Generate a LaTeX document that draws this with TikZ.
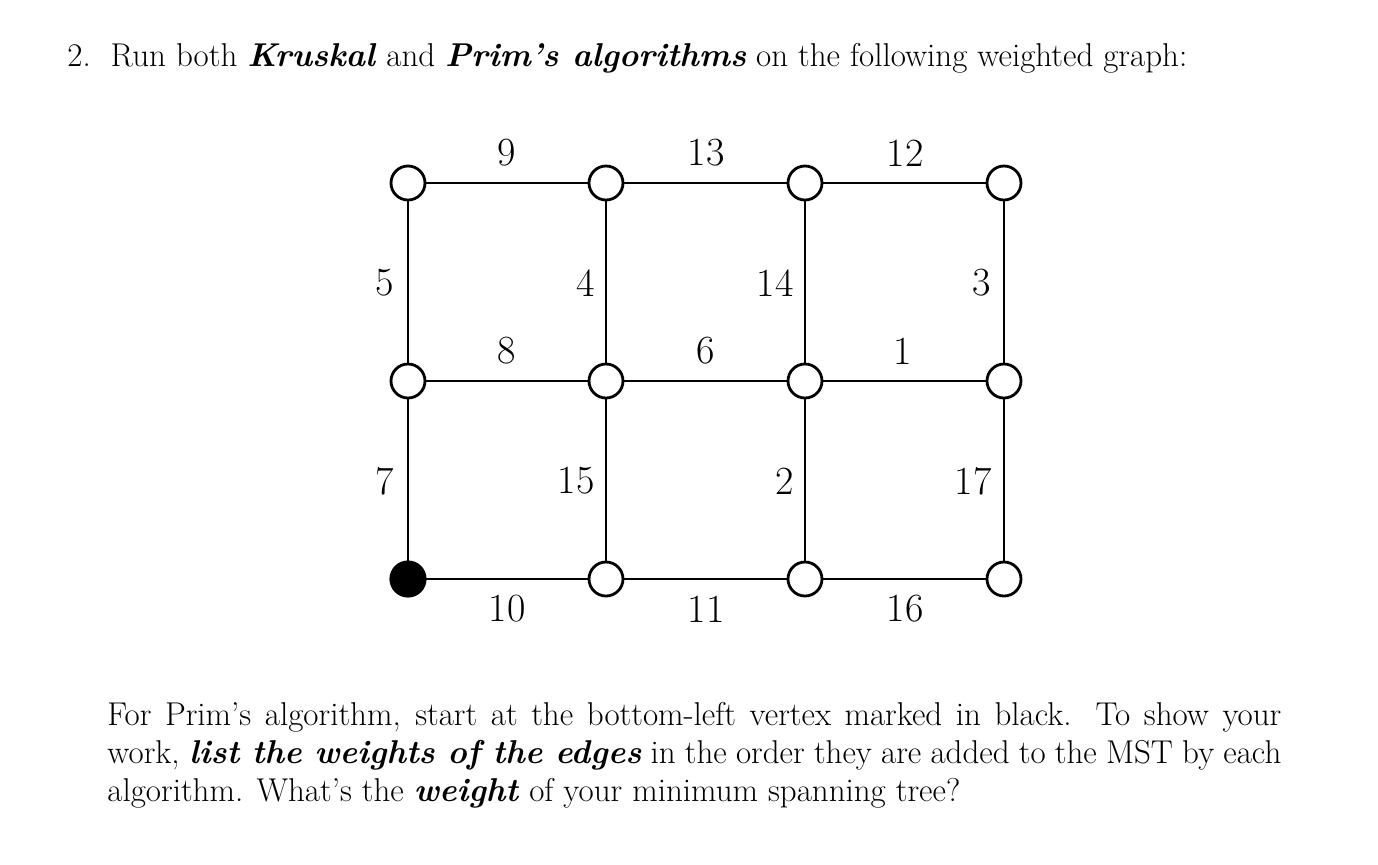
\documentclass[tikz,border=0pt]{standalone}
\begin{document}
\begin{tikzpicture}[x=0.5pt,y=-0.5pt,
  vtx/.style={circle,draw,line width=1.4pt,fill=white,minimum size=17pt,inner sep=0pt},
  edge/.style={line width=1.4pt},
  wlab/.style={font=\fontsize{20}{24}\selectfont,inner sep=0pt},
  txt/.style={font=\fontsize{16.5}{19}\selectfont,inner sep=0pt,anchor=base west}]
\useasboundingbox (0,0) rectangle (1378,864);
\foreach \c/\x in {0/408,1/606,2/805,3/1004}{
  \foreach \r/\y in {0/183,1/381,2/579}{
    \coordinate (p\c\r) at (\x,\y);
  }
}
\foreach \c in {0,1,2,3}{\draw[edge] (p\c0) -- (p\c1) -- (p\c2);}
\foreach \r in {0,1,2}{\draw[edge] (p0\r) -- (p1\r) -- (p2\r) -- (p3\r);}
\foreach \c in {0,1,2,3}{\foreach \r in {0,1,2}{\node[vtx] (v\c\r) at (p\c\r) {};}}
\node[vtx,fill=black] at (p02) {};
\node[wlab] (l9) at (507,153) {9};
\node[wlab] (l13) at (706,153) {13};
\node[wlab] (l12) at (905,153) {12};
\node[wlab] (l5) at (385,283) {5};
\node[wlab] (l4) at (586,283) {4};
\node[wlab] (l14) at (775,283) {14};
\node[wlab] (l3) at (982,283) {3};
\node[wlab] (l8) at (507,351) {8};
\node[wlab] (l6) at (706,351) {6};
\node[wlab] (l1) at (903,351) {1};
\node[wlab] (l7) at (385,481) {7};
\node[wlab] (l15) at (576,481) {15};
\node[wlab] (l2) at (785,481) {2};
\node[wlab] (l17) at (973,481) {17};
\node[wlab] (l10) at (507,609) {10};
\node[wlab] (l11) at (706,609) {11};
\node[wlab] (l16) at (905,609) {16};
\node[txt] (q) at (67,66) {2.\ \ Run both \textbf{\textit{Kruskal}} and \textbf{\textit{Prim's algorithms}} on the following weighted graph:};
\node[txt,anchor=north west,text width=587pt,align=justify] (p) at (107,702) {For Prim's algorithm, start at the bottom-left vertex marked in black. To show your\linebreak work, \textbf{\textit{list the weights of the edges}} in the order they are added to the MST by each\linebreak algorithm. What's the \textbf{\textit{weight}} of your minimum spanning tree?};
\end{tikzpicture}
\end{document}
